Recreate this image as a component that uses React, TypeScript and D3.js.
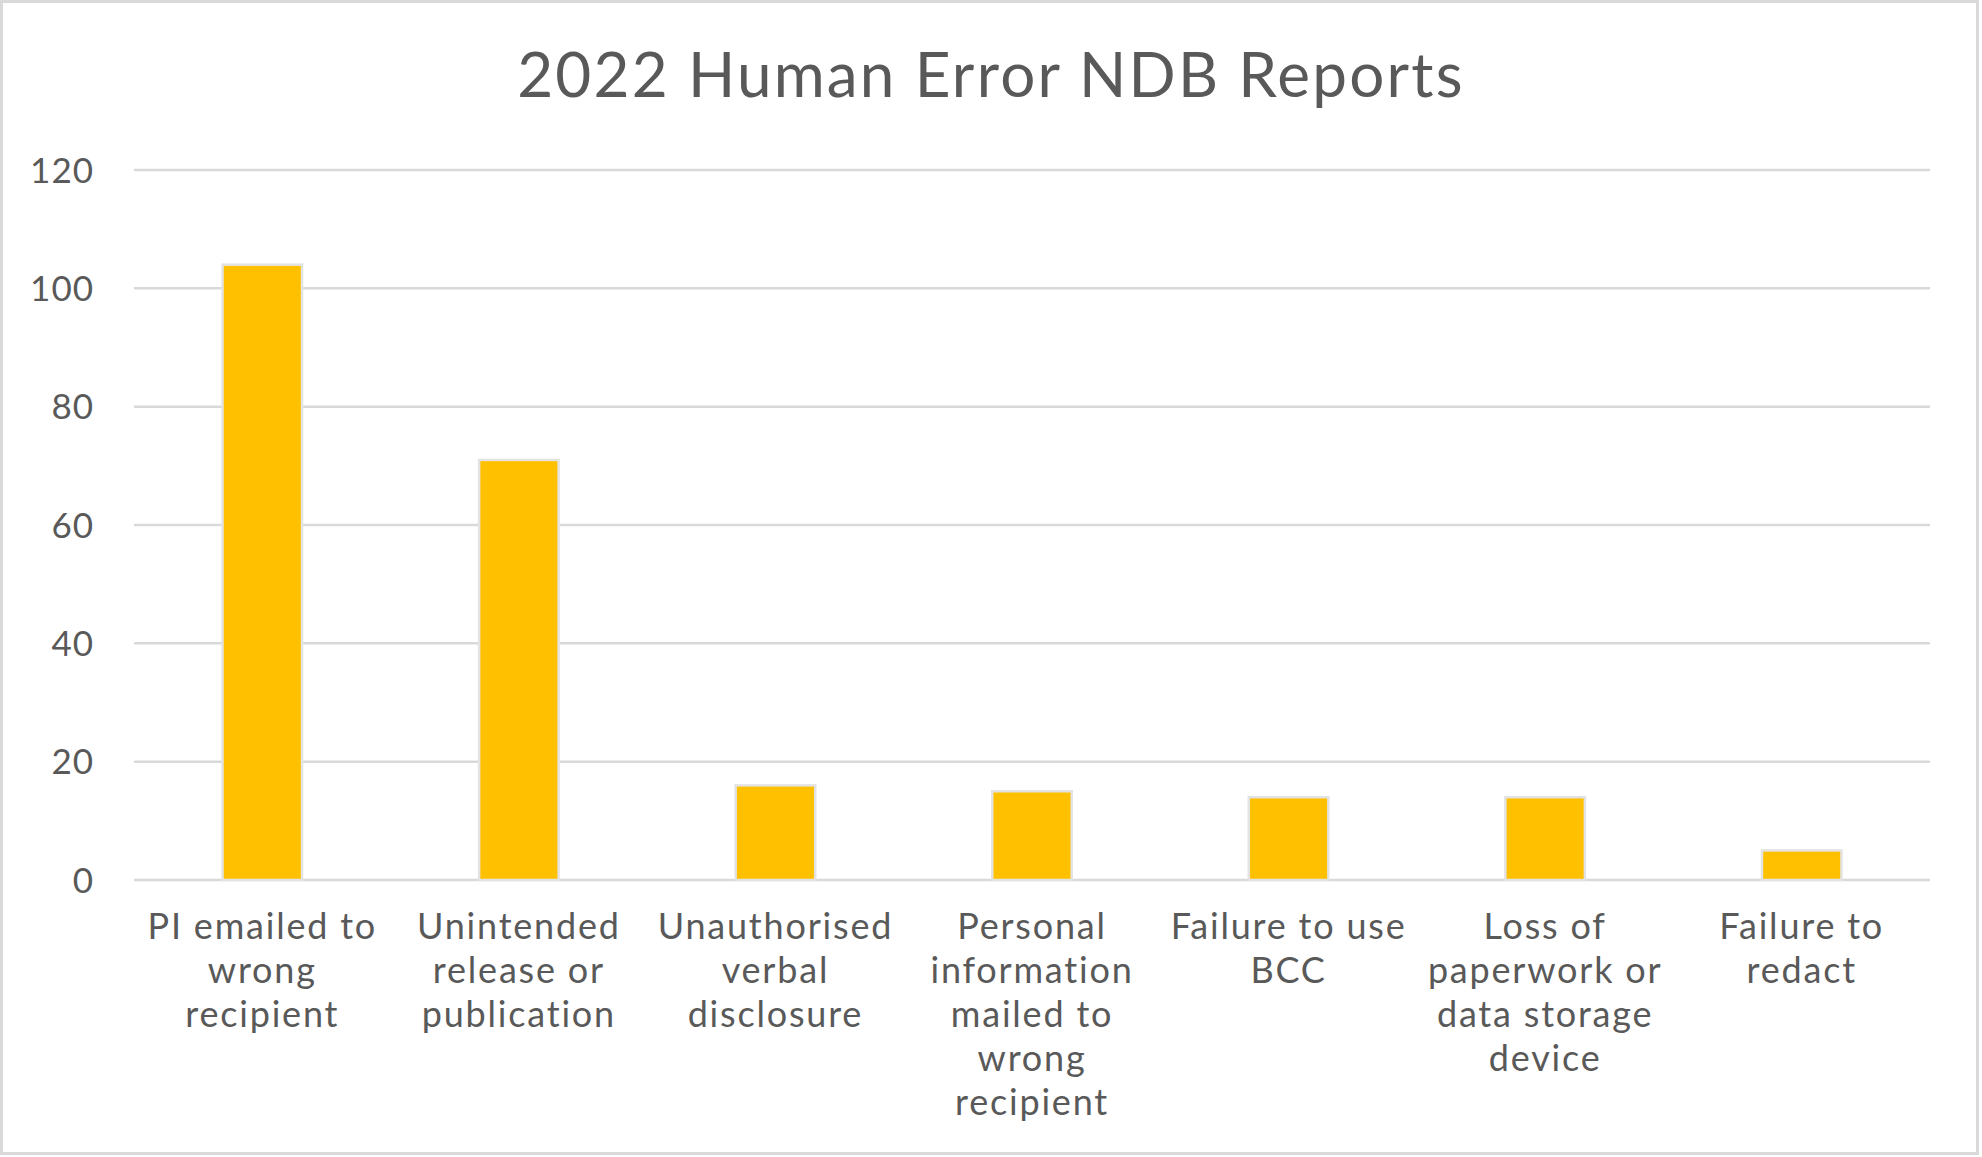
import { useEffect, useRef } from "react";
import * as d3 from "d3";

const title = "2022 Human Error NDB Reports";

const categories = [
  "PI emailed to\nwrong\nrecipient",
  "Unintended\nrelease or\npublication",
  "Unauthorised\nverbal\ndisclosure",
  "Personal\ninformation\nmailed to\nwrong\nrecipient",
  "Failure to use\nBCC",
  "Loss of\npaperwork or\ndata storage\ndevice",
  "Failure to\nredact",
];

const reports = [104, 71, 16, 15, 14, 14, 5];

const yTicks = [0, 20, 40, 60, 80, 100, 120];

export default function App() {
  const ref = useRef<SVGSVGElement>(null);

  useEffect(() => {
    document.body.style.margin = "0";
    if (!ref.current) return;

    const width = 1982;
    const height = 1157;
    const margin = { top: 170, right: 52, bottom: 277, left: 134 };
    const font = "Lato, 'Open Sans', sans-serif";
    const textColor = "#595959";

    const svg = d3.select(ref.current);
    svg.selectAll("*").remove();

    // chart frame
    svg.append("rect")
      .attr("x", 1.5)
      .attr("y", 1.5)
      .attr("width", width - 6)
      .attr("height", height - 5)
      .attr("fill", "#fff")
      .attr("stroke", "#d9d9d9")
      .attr("stroke-width", 3);

    const x = d3.scaleBand<number>()
      .domain(d3.range(categories.length))
      .range([margin.left, width - margin.right])
      .paddingInner(0.69)
      .paddingOuter(0.345);

    const y = d3.scaleLinear()
      .domain([0, 120])
      .range([height - margin.bottom, margin.top]);

    // gridlines
    svg.append("g")
      .selectAll("line")
      .data(yTicks)
      .join("line")
      .attr("x1", margin.left)
      .attr("x2", width - margin.right)
      .attr("y1", (d) => y(d))
      .attr("y2", (d) => y(d))
      .attr("stroke", "#d9d9d9")
      .attr("stroke-width", 2.5);

    // y tick labels
    svg.append("g")
      .selectAll("text")
      .data(yTicks)
      .join("text")
      .attr("x", 94)
      .attr("y", (d) => y(d))
      .attr("dy", "0.36em")
      .attr("text-anchor", "end")
      .attr("fill", textColor)
      .style("font", `35px ${font}`)
      .style("letter-spacing", "1px")
      .text((d) => d3.format("d")(d));

    // bars
    svg.append("g")
      .selectAll("rect")
      .data(reports)
      .join("rect")
      .attr("x", (_, i) => x(i)!)
      .attr("width", x.bandwidth())
      .attr("y", (d) => y(d))
      .attr("height", (d) => y(0) - y(d))
      .attr("fill", "#ffc000")
      .attr("stroke", "#e3e3e3")
      .attr("stroke-width", 2.5);

    // category labels
    const labels = svg.append("g")
      .selectAll("text")
      .data(categories)
      .join("text")
      .attr("text-anchor", "middle")
      .attr("fill", textColor)
      .style("font", `36px ${font}`)
      .style("letter-spacing", "1.8px")
      .attr("transform", (_, i) => `translate(${x(i)! + x.bandwidth() / 2},${y(0) + 59})`);

    labels.selectAll("tspan")
      .data((d) => d.split("\n"))
      .join("tspan")
      .attr("x", 0)
      .attr("y", (_, j) => j * 44)
      .text((d) => d);

    // title
    svg.append("text")
      .attr("x", width / 2)
      .attr("y", 97)
      .attr("text-anchor", "middle")
      .attr("fill", textColor)
      .style("font", `62px ${font}`)
      .style("letter-spacing", "2.2px")
      .text(title);
  }, []);

  return <svg ref={ref} width={1982} height={1157} style={{ display: "block" }} />;
}
